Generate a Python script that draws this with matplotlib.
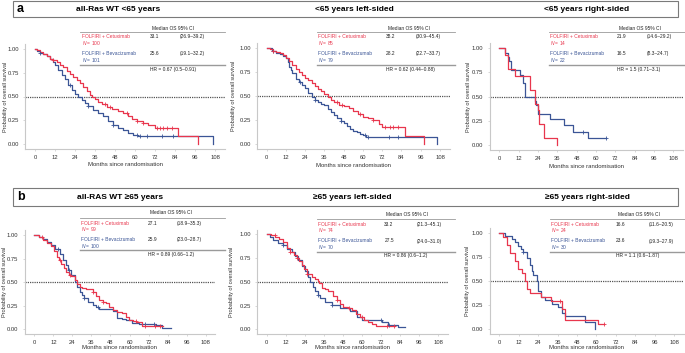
import numpy as np
import matplotlib
matplotlib.use('Agg')
import matplotlib.pyplot as plt
from matplotlib.patches import Rectangle
from matplotlib.lines import Line2D

plt.rcParams['font.family'] = ['Liberation Sans', 'DejaVu Sans']
plt.rcParams['mathtext.fontset'] = 'custom'
plt.rcParams['mathtext.it'] = 'Liberation Sans:italic'
plt.rcParams['mathtext.rm'] = 'Liberation Sans'

# ---------------- data (months, survival) ----------------
# a1: all-Ras WT <65 years
a1_cet_t = [0, 1, 3, 5, 7, 9, 11, 13, 15, 17, 19, 21, 23, 25, 27, 29, 31, 33, 34, 36, 38, 40, 43, 46, 50, 53, 56, 58, 61, 65, 68, 72, 86, 98]
a1_cet_s = [1, .99, .97, .95, .93, .90, .88, .86, .83, .81, .77, .74, .71, .67, .64, .60, .56, .52, .50, .47, .44, .42, .39, .37, .35, .33, .29, .26, .24, .22, .20, .165, .08, 0]
a1_cet_c = [11, 42, 45, 55, 61, 65, 73, 75, 77, 79, 82]
a1_bev_t = [0, 1, 3, 5, 7, 9, 11, 12, 14, 16, 18, 20, 22, 24, 26, 28, 30, 32, 35, 38, 41, 44, 47, 50, 53, 56, 59, 62, 107]
a1_bev_s = [1, .98, .96, .95, .93, .90, .86, .83, .78, .73, .68, .62, .57, .53, .50, .46, .43, .40, .36, .33, .30, .24, .20, .17, .15, .12, .10, .08, 0]
a1_bev_c = [3, 21, 32, 47, 61, 63, 67, 76, 83]

# a2: <65 years left-sided
a2_cet_t = [0, 2, 4, 6, 8, 10, 12, 14, 16, 18, 20, 22, 24, 26, 28, 30, 32, 34, 36, 38, 40, 42, 45, 48, 51, 54, 57, 60, 63, 66, 70, 72, 86, 98]
a2_cet_s = [1, .99, .97, .96, .94, .92, .89, .86, .82, .78, .75, .72, .69, .66, .63, .60, .57, .55, .52, .49, .46, .44, .41, .39, .37, .34, .31, .28, .27, .25, .21, .18, .08, 0]
a2_cet_c = [4, 44, 47, 58, 66, 74, 77, 79, 82]
a2_bev_t = [0, 3, 6, 8, 10, 12, 13, 14, 15, 16, 18, 20, 22, 24, 26, 28, 30, 32, 34, 36, 38, 40, 42, 44, 46, 48, 50, 52, 54, 56, 58, 60, 62, 106]
a2_bev_s = [1, .97, .95, .93, .91, .89, .85, .80, .77, .74, .68, .64, .61, .58, .53, .49, .46, .44, .42, .40, .36, .33, .30, .27, .24, .22, .19, .16, .14, .12, .10, .09, .07, 0]
a2_bev_c = [4, 21, 30, 46, 61, 63, 76, 82]

# a3: <65 years right-sided
a3_cet_t = [0, 3.5, 5.6, 9.7, 19, 21.9, 24.2, 24.8, 28, 36]
a3_cet_s = [1, .929, .786, .714, .571, .429, .357, .214, .071, 0]
a3_cet_c = []
a3_bev_t = [0, 3.5, 5.5, 6.2, 7, 13, 14.5, 16.2, 22, 23, 24, 31.5, 40, 46, 55, 66]
a3_bev_s = [1, .955, .909, .864, .773, .727, .636, .5, .455, .409, .318, .273, .205, .137, .068, .068]
a3_bev_c = [52, 66]

# b1: all-RAS WT >=65 years
b1_cet_t = [0, 3, 5.6, 8, 10.8, 12.5, 14, 15.5, 17, 18.5, 20.2, 22, 23.3, 25.4, 27.1, 28.5, 30, 32.7, 36.9, 39, 41, 43, 45, 47, 49.3, 52, 55.5, 58, 59.7, 62, 64, 68, 81]
b1_cet_s = [1, .98, .95, .92, .88, .83, .77, .73, .69, .65, .61, .58, .56, .52, .48, .45, .44, .43, .40, .35, .31, .29, .28, .24, .20, .18, .17, .13, .10, .09, .08, .04, .04]
b1_cet_c = [4.6, 16, 22.2, 36.9, 43, 63.9, 70, 76, 79]
b1_bev_t = [0, 3, 5.6, 8, 10.8, 13, 16, 18, 20, 21.5, 23.3, 25.4, 25.9, 27, 28.5, 30, 31.6, 34, 36.9, 39, 41, 45, 49.3, 52.4, 55, 57.6, 61.8, 66, 76.4, 80.7, 86]
b1_bev_s = [1, .98, .96, .93, .89, .85, .80, .74, .68, .63, .58, .52, .50, .45, .40, .36, .33, .29, .26, .24, .22, .21, .19, .12, .11, .10, .07, .06, .045, .017, .017]
b1_bev_c = [15, 21.6, 31.6, 40, 70, 75.3]

# b2: >=65 years left-sided
b2_cet_t = [0, 3, 5.2, 8, 10.5, 13, 14.7, 17, 18.9, 20.5, 22, 23.5, 25.2, 28.3, 30.5, 32.5, 33.2, 34.6, 36.5, 38.8, 41.5, 44, 46, 48.2, 51, 53.5, 56, 58.7, 61, 64, 66, 69, 81]
b2_cet_s = [1, .99, .975, .95, .92, .86, .81, .78, .75, .72, .68, .63, .58, .555, .53, .51, .49, .44, .42, .40, .35, .31, .27, .24, .22, .20, .16, .13, .10, .08, .06, .04, .04]
b2_cet_c = [5, 14.7, 18.9, 25.2, 44, 52, 60, 76, 80]
b2_bev_t = [0, 2, 4.2, 7, 10.5, 13, 15.7, 18, 19.9, 22, 24, 26, 27.3, 29, 30.4, 32, 33.5, 36.7, 40.9, 46.1, 52.4, 56.6, 59.7, 72.3, 76.5, 82.8, 87]
b2_bev_s = [1, .97, .94, .91, .89, .85, .81, .77, .73, .67, .61, .55, .50, .45, .40, .36, .33, .29, .26, .22, .19, .13, .10, .08, .045, .02, .02]
b2_bev_c = [10.5, 32.5, 41, 72, 77]

# b3: >=65 years right-sided
b3_cet_t = [0, 2.5, 4.5, 6.6, 9.7, 11.8, 13.8, 15.9, 16.9, 19, 26, 32, 38.6, 40.6, 61, 64.5]
b3_cet_s = [1, .958, .875, .792, .708, .625, .583, .5, .417, .375, .333, .292, .208, .10, .05, .05]
b3_cet_c = [37.5, 64.5]
b3_bev_t = [0, 3.5, 7.6, 9.7, 11.8, 13.5, 14.8, 16.9, 19, 20, 21, 23.1, 24.1, 25.8, 28.2, 32.4, 36.5, 38.6, 40.6, 53, 59.2]
b3_bev_s = [1, .967, .933, .90, .867, .833, .80, .733, .667, .60, .567, .50, .40, .333, .30, .267, .233, .167, .133, .08, 0]
b3_bev_c = [14.8]

titles = ['all-Ras WT <65 years', '<65 years left-sided', '<65 years right-sided',
          'all-RAS WT \u226565 years', '\u226565 years left-sided', '\u226565 years right-sided']
n_cet = [100, 85, 14, 99, 74, 24]
n_bev = [101, 79, 22, 100, 70, 30]
med_cet = ['33.1', '38.2', '21.9', '27.1', '33.2', '16.6']
ci_cet = ['(26.9\u201339.2)', '(30.9\u201345.4)', '(14.6\u201329.2)', '(18.9\u201335.3)', '(21.3\u201345.1)', '(11.6\u201320.5)']
med_bev = ['25.6', '28.2', '16.5', '25.9', '27.5', '23.6']
ci_bev = ['(19.1\u201332.2)', '(22.7\u201333.7)', '(8.3\u201324.7)', '(23.0\u201328.7)', '(24.0\u201331.0)', '(19.3\u201327.9)']
hr = ['HR = 0.67 (0.5\u20130.91)', 'HR = 0.62 (0.44\u20130.88)', 'HR = 1.5 (0.71\u20133.1)',
      'HR = 0.89 (0.66\u20131.2)', 'HR = 0.86 (0.6\u20131.2)', 'HR = 1.1 (0.6\u20131.87)']
xticks = [0, 12, 24, 36, 48, 60, 72, 84, 96, 108]
yticks = [0, 0.25, 0.5, 0.75, 1.0]

curves = [
    (a1_cet_t, a1_cet_s, a1_cet_c, a1_bev_t, a1_bev_s, a1_bev_c),
    (a2_cet_t, a2_cet_s, a2_cet_c, a2_bev_t, a2_bev_s, a2_bev_c),
    (a3_cet_t, a3_cet_s, a3_cet_c, a3_bev_t, a3_bev_s, a3_bev_c),
    (b1_cet_t, b1_cet_s, b1_cet_c, b1_bev_t, b1_bev_s, b1_bev_c),
    (b2_cet_t, b2_cet_s, b2_cet_c, b2_bev_t, b2_bev_s, b2_bev_c),
    (b3_cet_t, b3_cet_s, b3_cet_c, b3_bev_t, b3_bev_s, b3_bev_c),
]

# ---------------- layout (pixels) ----------------
W, H = 685, 353
RED = '#e8364d'
BLUE = '#3b5596'
GREY = '#9a9a9a'
XL = (-6, 114)
YL = (-0.05, 1.05)

# x of month 0, x of month 108, y of S=1, y of S=0
pos = [(35, 215, 49, 144), (266.7, 440, 47.7, 144), (499.3, 673.3, 48.3, 145),
       (34.3, 205.7, 235, 329.3), (266.7, 438.3, 234.3, 329.3), (499.3, 674, 232.7, 329.3)]
# table: name x, median x, ci x, header y, line start, line end
tab = [(81.7, 150, 180, 28.3, 80, 225), (317.7, 385.7, 415.7, 28.3, 316.7, 455),
       (550, 616.7, 646.7, 28.3, 549.3, 685), (81, 147.7, 176.7, 212.7, 80, 225),
       (318.3, 384.3, 416.7, 214, 316.7, 455), (550.7, 616, 648.3, 214, 550, 685)]
offs_a = [0, 4, 8.4, 14.7, 25, 31.7, 36.4, 41.4]
offs_b = [0, 5, 10.4, 16.2, 27, 32.8, 37.6, 41.8]
title_x = [118, 354, 587, 120, 352, 587]
ylab_x = [5.5, 233, 468.3, 5, 232, 467.7]
xlab_y = [165, 165.5, 166, 347.5, 347.5, 347.5]

fig = plt.figure(figsize=(W / 100, H / 100), dpi=100)


def T(x, y, s, **kw):
    kw.setdefault('va', 'center')
    kw.setdefault('fontsize', 3.5)
    fig.text(x / W, 1 - y / H, s, **kw)


def hline(x1, x2, y, lw, color):
    fig.add_artist(Line2D([x1 / W, x2 / W], [1 - y / H] * 2, transform=fig.transFigure,
                          color=color, lw=lw))


def km(ax, t, s, cens, color):
    ax.step(t, s, where='post', color=color, lw=0.9, zorder=3)
    idx = np.searchsorted(t, cens, side='right') - 1
    ax.plot(cens, np.array(s)[idx], '+', color=color, ms=2.8, mew=0.6, zorder=4)


# header boxes
for (y1, y2, letter) in [(1, 17, 'a'), (187.7, 205.7, 'b')]:
    fig.add_artist(Rectangle((13 / W, 1 - y2 / H), (678 - 13) / W, (y2 - y1) / H,
                             transform=fig.transFigure, fill=False, ec='#7a7a7a', lw=0.8))
    T(17, (y1 + y2) / 2 + 0.5, letter, fontsize=9, fontweight='bold')

for i in range(6):
    x0, x108, y1, y0 = pos[i]
    ppm = (x108 - x0) / 108
    ppu = y0 - y1
    left = x0 + XL[0] * ppm
    right = x0 + XL[1] * ppm
    top = y1 - (YL[1] - 1) * ppu
    bottom = y0 - YL[0] * ppu
    ax = fig.add_axes([left / W, 1 - bottom / H, (right - left) / W, (bottom - top) / H])
    ax.set_xlim(*XL)
    ax.set_ylim(*YL)
    for sp in ['top', 'right']:
        ax.spines[sp].set_visible(False)
    for sp in ['left', 'bottom']:
        ax.spines[sp].set_color('#c8c8c8')
        ax.spines[sp].set_linewidth(0.8)
    ax.set_xticks(xticks)
    ax.set_yticks(yticks)
    ax.set_yticklabels(['%.2f' % v for v in yticks])
    ax.tick_params(labelsize=4.2, length=1.5, width=0.5, color='#c8c8c8',
                   labelcolor='#333333', pad=3)
    ax.axhline(0.5, color='#555555', lw=0.9, ls=(0, (1, 0.8)), zorder=2)
    ct, cs, cc, bt, bs, bc = curves[i]
    km(ax, bt, bs, bc, BLUE)
    km(ax, ct, cs, cc, RED)
    T((left + right) / 2, xlab_y[i], 'Months since randomisation', fontsize=4.3,
      color='#333333', ha='center')
    T(ylab_x[i], (y0 + y1) / 2, 'Probability of overall survival', fontsize=4,
      rotation=90, ha='center', color='#333333')

    # title in header box
    ty = 9.3 if i < 3 else 197
    T(title_x[i], ty, titles[i], fontsize=6, fontweight='bold', ha='center')

    # table
    nx, mx, cx, hy, lx1, lx2 = tab[i]
    o = offs_a if i < 3 else offs_b
    T(mx + 2, hy + o[0], 'Median OS 95% CI', color='#222222')
    hline(lx1, lx2, hy + o[1], 0.6, GREY)
    T(nx, hy + o[2], 'FOLFIRI + Cetuximab', color=RED)
    T(nx, hy + o[3], '$N$ = %d' % n_cet[i], color=RED)
    T(mx, hy + o[2], med_cet[i], color='#222222')
    T(cx, hy + o[2], ci_cet[i], color='#222222')
    T(nx, hy + o[4], 'FOLFIRI + Bevacizumab', color=BLUE)
    T(nx, hy + o[5], '$N$ = %d' % n_bev[i], color=BLUE)
    T(mx, hy + o[4], med_bev[i], color='#222222')
    T(cx, hy + o[4], ci_bev[i], color='#222222')
    hline(lx1, lx2, hy + o[6], 1.0, GREY)
    T(mx, hy + o[7], hr[i], color='#222222')

fig.savefig('out.png', dpi=100)
